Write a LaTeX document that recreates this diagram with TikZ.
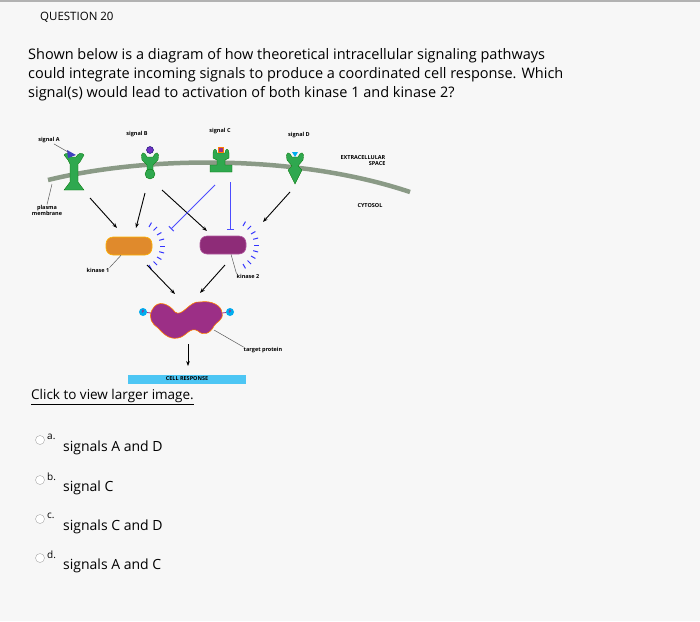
\documentclass[tikz,border=0pt]{standalone}
\usepackage{fontspec}
\setmainfont{Open Sans}
\usetikzlibrary{arrows.meta}
\definecolor{magp}{HTML}{9C2F86}
\definecolor{kin2}{HTML}{8E2C78}
\definecolor{kin1}{HTML}{E08A2C}
\definecolor{recg}{HTML}{2FA84F}
\definecolor{memb}{HTML}{8A9A86}
\begin{document}
\begin{tikzpicture}[x=1pt,y=-1pt,
 q/.style={anchor=west,inner sep=0,font=\fontsize{14.5}{16}\selectfont},
 sm/.style={inner sep=0,font=\bfseries\fontsize{5.5}{6}\selectfont},
 ar/.style={-{Stealth[length=5pt]},line width=0.9pt},
 inh/.style={-{Bar[width=7pt]},line width=0.9pt,blue!70},
 recf/.style={fill=recg,draw=green!45!black,line width=0.3pt},
 ans/.style={anchor=west,inner sep=0,font=\fontsize{14}{16}\selectfont}]
\useasboundingbox (0,0) rectangle (700,621);
\fill[gray!6] (0,0) rectangle (700,621);
\draw[gray!60,line width=1.5pt] (0,1) -- (700,1);
\node[q,font=\fontsize{11.5}{13}\selectfont] (qt) at (40,17) {QUESTION 20};
\node[q] (l1) at (28,56) {Shown below is a diagram of how theoretical intracellular signaling pathways};
\node[q] (l2) at (28,75) {could integrate incoming signals to produce a coordinated cell response. Which};
\node[q] (l3) at (28,94) {signal(s) would lead to activation of both kinase 1 and kinase 2?};
% membrane
\draw[memb,line width=4.5pt] (48,180) .. controls (150,155) and (300,155) .. (410,192);
% receptor A
\path[recf] (68,160) -- (64,155) .. controls (66,152) and (70,153) .. (72,157) -- (76,157) .. controls (78,153) and (82,152) .. (84,155) -- (80,162) -- (78,164) -- (78,182) -- (84,190) -- (64,190) -- (70,182) -- (70,164) -- cycle;
\fill[blue!50!gray] (67,150) -- (76,155) -- (68,158) -- cycle;
\coordinate (ra) at (68,152);
% receptor B
\path[recf] (142,160) .. controls (140,150) and (145,152) .. (147,157) -- (153,157) .. controls (155,152) and (160,150) .. (158,160) -- (153,165) -- (153,170) -- (147,170) -- (147,165) -- cycle;
\node[recf,circle,minimum size=10pt,inner sep=0] (rb) at (150,174) {};
\node[circle,minimum size=7pt,inner sep=0,fill=blue!60!purple!80,draw=blue!40!black] (sb) at (150,150) {};
% receptor C
\path[recf] (213,153) .. controls (213,148) and (217,148) .. (217,153) -- (225,153) .. controls (225,148) and (229,148) .. (229,153) -- (229,158) -- (225,160) -- (225,165) -- (232,165) -- (232,172) -- (210,172) -- (210,165) -- (217,165) -- (217,160) -- (213,158) -- cycle;
\node[inner sep=0,minimum size=5pt,fill=magp,draw=orange] (sc) at (221,150) {};
% receptor D
\path[recf] (287,160) .. controls (285,150) and (290,152) .. (292,157) -- (298,157) .. controls (300,152) and (305,150) .. (303,160) -- (298,166) -- (302,170) -- (295,184) -- (288,170) -- (292,166) -- cycle;
\fill[cyan] (292,152) -- (298,152) -- (295,157) -- cycle;
% labels
\node[sm] (la) at (49,140) {signal A};
\node[sm] (lb) at (137,134) {signal B};
\node[sm] (lc) at (220,131) {signal C};
\node[sm] (ld) at (299,135) {signal D};
\node[sm,align=right] (ex) at (363,161) {EXTRACELLULAR\\SPACE};
\node[sm] (cy) at (370,206) {CYTOSOL};
\node[sm,align=center] (pm) at (47,210) {plasma\\membrane};
\draw[gray!70!black,line width=0.5pt] (la.south) ++(5,1) -- (ra);
\draw[gray!70!black,line width=0.5pt] (52,184) -- (pm.north);
% kinases
\node[fill=kin1,draw=orange!60!yellow,line width=0.6pt,rounded corners=7pt,minimum width=46pt,minimum height=18pt,inner sep=0] (k1) at (129,246) {};
\node[fill=kin2,draw=magp!80!white,line width=0.6pt,rounded corners=7pt,minimum width=46pt,minimum height=18pt,inner sep=0] (k2) at (223,245) {};
\foreach \cx/\cy in {138/246,232/245}{
 \foreach \a in {-60,-45,...,60}{
  \draw[blue!80,line width=1pt] (\cx,\cy) ++(\a:22pt) -- ++(\a:5pt);
 }}
\node[sm] (lk1) at (98,270) {kinase 1};
\node[sm] (lk2) at (248,276) {kinase 2};
\draw[gray!70!black,line width=0.5pt] (lk1.north east) -- ([xshift=-8pt]k1.south);
\draw[gray!70!black,line width=0.5pt] (lk2.north west) -- ([xshift=8pt]k2.south);
% target
\path[fill=magp,draw=orange,line width=0.6pt] (152,310) .. controls (158,298) and (170,305) .. (175,312) .. controls (182,318) and (190,300) .. (200,302) .. controls (212,300) and (222,306) .. (222,313) .. controls (224,320) and (216,322) .. (214,326) .. controls (210,334) and (203,336) .. (198,331) .. controls (190,326) and (186,337) .. (178,338) .. controls (168,340) and (162,332) .. (158,328) .. controls (152,324) and (148,318) .. cycle;
\node[circle,fill=cyan,inner sep=0,minimum size=8pt,font=\bfseries\fontsize{4.5}{4}\selectfont,text=magp] (p1) at (143,312) {P};
\node[circle,fill=cyan,inner sep=0,minimum size=8pt,font=\bfseries\fontsize{4.5}{4}\selectfont,text=magp] (p2) at (230,312) {P};
\draw[magp,line width=0.8pt] (p1) -- (151,313);
\draw[magp,line width=0.8pt] (p2) -- (222,313);
\node[sm] (ltp) at (263,350) {target protein};
\draw[gray!70!black,line width=0.5pt] (ltp.north west) -- (214,330);
% cell response
\node[fill=cyan!70,minimum width=118pt,minimum height=9pt,inner sep=0,sm] (cr) at (187,379) {CELL RESPONSE};
\node[q,font=\fontsize{13.5}{15}\selectfont] (clk) at (31,397) {\underline{Click to view larger image.}};
% arrows
\coordinate (a1) at (90,198); \coordinate (a1e) at (117,228);
\draw[ar] (a1) -- (a1e);
\coordinate (b1) at (145,193); \coordinate (b1e) at (136,228);
\draw[ar] (b1) -- (b1e);
\coordinate (b2) at (162,190); \coordinate (b2e) at (207,231);
\draw[ar] (b2) -- (b2e);
\coordinate (c1) at (215,185); \coordinate (c1e) at (171,229);
\draw[inh] (c1) -- (c1e);
\coordinate (c2) at (230,182); \coordinate (c2e) at (230,230);
\draw[inh] (c2) -- (c2e);
\coordinate (d1) at (290,192); \coordinate (d1e) at (263,222);
\draw[ar] (d1) -- (d1e);
\coordinate (k1a) at (147,265); \coordinate (k1b) at (175,294);
\draw[ar] (k1a) -- (k1b);
\coordinate (k2a) at (225,265); \coordinate (k2b) at (200,293);
\draw[ar] (k2a) -- (k2b);
\coordinate (t1) at (188,344); \coordinate (t1e) at (188,366);
\draw[ar] (t1) -- (t1e);
% answers
\foreach \y/\l/\t/\n in {448/a/signals A and D/aa,488/b/signal C/ab,527/c/signals C and D/ac,566/d/signals A and C/ad}{
 \node[circle,draw=gray!70,fill=white,minimum size=9pt,inner sep=0] (c\n) at (40,\y-8) {};
 \node[inner sep=0,font=\fontsize{10}{10}\selectfont,anchor=west] (s\n) at (47,\y-11) {\l.};
 \node[ans] (t\n) at (63,\y) {\t};
}
\end{tikzpicture}
\end{document}
